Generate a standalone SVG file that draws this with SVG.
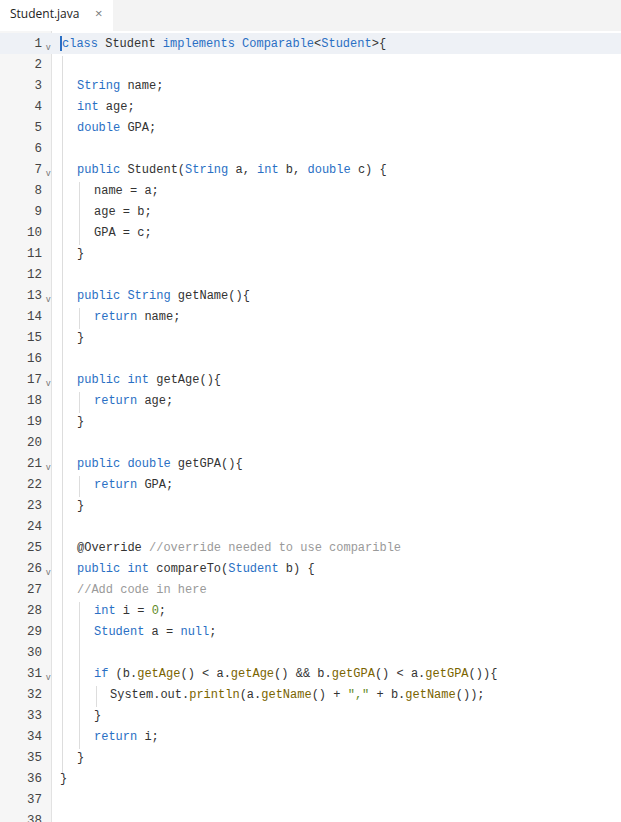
<svg xmlns="http://www.w3.org/2000/svg" width="621" height="822" viewBox="0 0 621 822">
<style>
text{font-family:"Liberation Mono","DejaVu Sans Mono",monospace;font-size:12px;fill:#333;white-space:pre}
.n{text-anchor:end;fill:#444;font-size:12.5px}
.k{fill:#2a6fc4}.c{fill:#9a9a9a}.m{fill:#7a6400}.g{fill:#5f8a1e}
.f{font-family:"Liberation Sans",Arial,sans-serif;font-size:9px;fill:#777}
.tab{font-family:"Open Sans","Liberation Sans",sans-serif;font-size:12px;fill:#222}
.gd{stroke:#ddd;stroke-width:1}
</style>
<rect width="621" height="822" fill="#fff"/>
<rect width="621" height="31" fill="#f3f3f3"/>
<g id="tab"><rect x="0" y="0" width="113" height="31" fill="#fff"/>
<text class="tab" x="10" y="18">Student.java</text><text class="tab" x="95" y="18" style="fill:#777;font-size:13px">×</text></g>
<rect x="0" y="31" width="51" height="791" fill="#f6f6f6"/>
<line x1="51.5" y1="31" x2="51.5" y2="822" stroke="#e2e2e2"/>
<rect x="0" y="33" width="621" height="21" fill="#eef1f6"/>
<rect x="60" y="36" width="2" height="15" fill="#2a6fc4"/>
<g id="guides">
<line class="gd" x1="62.5" y1="56" x2="62.5" y2="773"/>
<line class="gd" x1="79.5" y1="182" x2="79.5" y2="245"/>
<line class="gd" x1="79.5" y1="308" x2="79.5" y2="329"/>
<line class="gd" x1="79.5" y1="392" x2="79.5" y2="413"/>
<line class="gd" x1="79.5" y1="476" x2="79.5" y2="497"/>
<line class="gd" x1="79.5" y1="602" x2="79.5" y2="749"/>
<line class="gd" x1="96.5" y1="686" x2="96.5" y2="707"/>
</g>
<g id="lines">
<text class="n" x="42" y="47">1</text><text class="n" x="42" y="68">2</text><text class="n" x="42" y="89">3</text><text class="n" x="42" y="110">4</text><text class="n" x="42" y="131">5</text><text class="n" x="42" y="152">6</text><text class="n" x="42" y="173">7</text><text class="n" x="42" y="194">8</text><text class="n" x="42" y="215">9</text><text class="n" x="42" y="236">10</text><text class="n" x="42" y="257">11</text><text class="n" x="42" y="278">12</text><text class="n" x="42" y="299">13</text><text class="n" x="42" y="320">14</text><text class="n" x="42" y="341">15</text><text class="n" x="42" y="362">16</text><text class="n" x="42" y="383">17</text><text class="n" x="42" y="404">18</text><text class="n" x="42" y="425">19</text><text class="n" x="42" y="446">20</text><text class="n" x="42" y="467">21</text><text class="n" x="42" y="488">22</text><text class="n" x="42" y="509">23</text><text class="n" x="42" y="530">24</text><text class="n" x="42" y="551">25</text><text class="n" x="42" y="572">26</text><text class="n" x="42" y="593">27</text><text class="n" x="42" y="614">28</text><text class="n" x="42" y="635">29</text><text class="n" x="42" y="656">30</text><text class="n" x="42" y="677">31</text><text class="n" x="42" y="698">32</text><text class="n" x="42" y="719">33</text><text class="n" x="42" y="740">34</text><text class="n" x="42" y="761">35</text><text class="n" x="42" y="782">36</text><text class="n" x="42" y="803">37</text><text class="n" x="42" y="824">38</text>
<text class="f" x="46" y="50">v</text><text class="f" x="46" y="176">v</text><text class="f" x="46" y="302">v</text><text class="f" x="46" y="386">v</text><text class="f" x="46" y="470">v</text><text class="f" x="46" y="575">v</text><text class="f" x="46" y="680">v</text>
</g>
<g id="code">
<text x="62" y="47"><tspan class="k">class</tspan> Student <tspan class="k">implements</tspan> <tspan class="k">Comparable</tspan>&lt;<tspan class="k">Student</tspan>&gt;{</text>
<text x="77" y="89"><tspan class="k">String</tspan> name;</text>
<text x="77" y="110"><tspan class="k">int</tspan> age;</text>
<text x="77" y="131"><tspan class="k">double</tspan> GPA;</text>
<text x="77" y="173"><tspan class="k">public</tspan> Student(<tspan class="k">String</tspan> a, <tspan class="k">int</tspan> b, <tspan class="k">double</tspan> c) {</text>
<text x="94" y="194">name = a;</text>
<text x="94" y="215">age = b;</text>
<text x="94" y="236">GPA = c;</text>
<text x="77" y="257">}</text>
<text x="77" y="299"><tspan class="k">public</tspan> <tspan class="k">String</tspan> getName(){</text>
<text x="94" y="320"><tspan class="k">return</tspan> name;</text>
<text x="77" y="341">}</text>
<text x="77" y="383"><tspan class="k">public</tspan> <tspan class="k">int</tspan> getAge(){</text>
<text x="94" y="404"><tspan class="k">return</tspan> age;</text>
<text x="77" y="425">}</text>
<text x="77" y="467"><tspan class="k">public</tspan> <tspan class="k">double</tspan> getGPA(){</text>
<text x="94" y="488"><tspan class="k">return</tspan> GPA;</text>
<text x="77" y="509">}</text>
<text x="77" y="551">@Override <tspan class="c">//override needed to use comparible</tspan></text>
<text x="77" y="572"><tspan class="k">public</tspan> <tspan class="k">int</tspan> compareTo(<tspan class="k">Student</tspan> b) {</text>
<text x="77" y="593" class="c">//Add code in here</text>
<text x="94" y="614"><tspan class="k">int</tspan> i = <tspan class="g">0</tspan>;</text>
<text x="94" y="635"><tspan class="k">Student</tspan> a = <tspan class="k">null</tspan>;</text>
<text x="94" y="677"><tspan class="k">if</tspan> (b.<tspan class="m">getAge</tspan>() &lt; a.<tspan class="m">getAge</tspan>() &amp;&amp; b.<tspan class="m">getGPA</tspan>() &lt; a.<tspan class="m">getGPA</tspan>()){</text>
<text x="110" y="698">System.out.<tspan class="m">println</tspan>(a.<tspan class="m">getName</tspan>() + <tspan class="g">","</tspan> + b.<tspan class="m">getName</tspan>());</text>
<text x="94" y="719">}</text>
<text x="94" y="740"><tspan class="k">return</tspan> i;</text>
<text x="77" y="761">}</text>
<text x="60" y="782">}</text>
</g>
</svg>
